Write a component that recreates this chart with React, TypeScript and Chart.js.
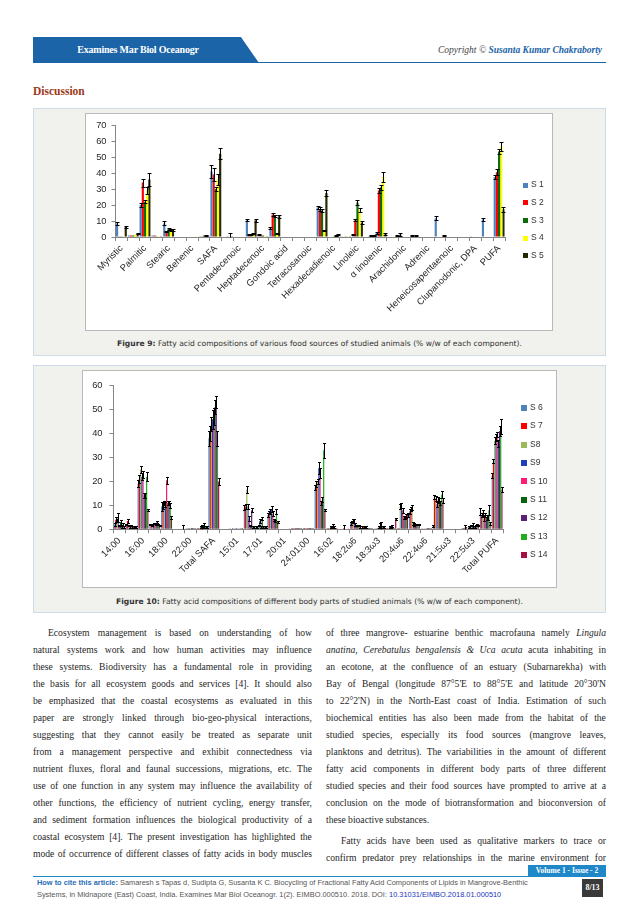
import React, { useEffect, useRef } from "react";
import { Chart, registerables } from "chart.js";

Chart.register(...registerables);

// ---------------- Figure 9 data ----------------
const foodCategories = [
  "Myristic", "", "Palmitic", "", "Stearic", "", "Behenic", "", "SAFA", "",
  "Pentadecenoic", "", "Heptadecenoic", "", "Gondoic acid", "", "Tetracosanoic", "",
  "Hexadecadienoic", "", "Linoleic", "", "α linolenic", "", "Arachidonic", "",
  "Adrenic", "", "Heneicosapentaenoic", "", "Clupanodonic, DPA", "", "PUFA",
];
const foodSeriesNames = ["S 1", "S 2", "S 3", "S 4", "S 5"];
const foodColors = ["#4f81bd", "#ff0000", "#0b6b0b", "#ffff00", "#262600"];
const foodS1 = [8.5, 1, 20, 1, 8.5, 0, 0.3, 0.5, 41, 0.3, 0.3, 10.5, 1.5, 5.5, 0, 0, 0, 18.5, 0.3, 0.5, 1.5, 0.3, 2.5, 0.3, 1.5, 1, 0.3, 11.7, 0, 0, 0.5, 11, 37.5];
const foodS2 = [0.5, 1, 34, 1, 3.5, 0, 0.3, 0.5, 39, 0.3, 0.3, 1.5, 1, 14, 0, 0, 0, 17.5, 0.3, 0.3, 10.5, 0.3, 29, 0.3, 0.3, 0.3, 0.3, 0, 0, 0, 0.3, 0, 40.5];
const foodS3 = [0.5, 1, 22, 0.5, 5, 0, 0.3, 1, 30, 0.5, 0.3, 1.5, 1, 13, 0, 0, 0, 16.5, 0.5, 0.5, 21.5, 0.5, 31, 0.3, 0.3, 0.8, 0.3, 0, 0, 0, 0, 0, 53.5];
const foodS4 = [0.5, 1.5, 29, 0.5, 4.5, 0, 0.5, 1, 36, 0.3, 0.3, 2, 0.5, 2, 0, 0, 0, 4, 1, 0.5, 17, 1, 37.5, 0.5, 0.3, 0.5, 0.3, 0, 0, 0, 0, 0, 56.5];
const foodS5 = [6.3, 2, 36, 0.5, 4.5, 0, 0.3, 0.8, 52, 0.5, 0.3, 10.5, 0.5, 13, 0, 0, 0, 27.5, 1.5, 0.5, 9, 1, 2, 1, 0.3, 0.3, 0.3, 1, 0, 0, 0, 0, 17.3];
const foodE1 = [0.7, 0, 1, 0, 1.2, 0, 0, 0, 4, 0, 0, 0.7, 0.3, 0.5, 0, 0, 0, 1, 0, 0, 0.3, 0, 0.5, 0, 1, 0.5, 0, 1.2, 0, 0, 0, 0.7, 1.5];
const foodE2 = [0, 0, 2.5, 0, 0.5, 0, 0, 0, 4, 0, 0, 0.3, 0, 1, 0, 0, 0, 1, 0, 0, 0.8, 0, 1.5, 0, 0, 0, 0, 0, 0, 0, 0, 0, 2];
const foodE3 = [0, 0, 1, 0, 0.5, 0, 0, 0, 1.5, 0, 0, 0.3, 0, 0.8, 0, 0, 0, 0.8, 0, 0, 1.5, 0, 1.5, 0, 0, 0.3, 0, 0, 0, 0, 0, 0, 1.5];
const foodE4 = [0, 0, 2, 0, 0.5, 0, 0, 0.3, 3.5, 2, 0, 0.3, 0, 0.3, 0, 0, 0, 0.5, 0.3, 0, 1.3, 0.5, 3, 0, 0, 0, 0, 0, 0, 0, 0, 0, 3];
const foodE5 = [0.6, 0.3, 4, 0, 0.5, 0, 0, 0, 3.5, 0, 0, 1, 0, 1, 0, 0, 0, 2, 0.5, 0, 0.8, 0.3, 0.5, 0.3, 0, 0, 0, 0.3, 0, 0, 0, 0, 1.5];
const foodTicks = [0, 70, 10];

// ---------------- Figure 10 data ----------------
const bodyCategories = [
  "14:00", "", "16:00", "", "18:00", "", "22:00", "", "Total SAFA", "",
  "15:01", "", "17:01", "", "20:01", "", "24:01:00", "", "16:02", "",
  "18:2ω6", "", "18:3ω3", "", "20:4ω6", "", "22:4ω6", "", "21:5ω3", "",
  "22:5ω3", "", "Total PUFA",
];
const bodySeriesNames = ["S 6", "S 7", "S8", "S9", "S 10", "S 11", "S 12", "S 13", "S 14"];
const bodyColors = ["#4f81bd", "#ff0000", "#9bbb59", "#1f3fc0", "#ff1a75", "#0a640a", "#5b1f7a", "#1fae1f", "#a51040"];
const bodyS6 = [2, 2, 19, 2, 9.5, 0, 0.3, 0.5, 38, 0, 0.5, 9, 1, 6, 0, 0.5, 0.5, 17.5, 0.5, 0, 2.5, 1, 0.3, 0.5, 0.5, 7.5, 0.3, 1.5, 0, 0, 1, 7.5, 22.5];
const bodyS7 = [4, 3.5, 21, 2, 10, 0, 0.3, 0.5, 40, 0, 0.3, 9.5, 1, 7, 0, 0.5, 0.5, 19, 0.5, 0, 3, 1, 0.3, 0.5, 0.5, 8.5, 0.3, 13.5, 0, 0, 1, 6, 28.5];
const bodyS8 = [4, 1.5, 25, 1.5, 11, 0, 0.5, 0.5, 44, 0, 0.3, 16.5, 1.5, 7.5, 0, 0.5, 0.5, 20, 0.5, 0, 3.5, 1, 0.5, 0.5, 9.5, 9, 0.3, 13, 0, 0, 1.5, 7, 37];
const bodyS9 = [5, 1, 22, 2.5, 10.5, 0, 0.5, 1, 46, 0, 0.5, 9.5, 3.5, 8.5, 0, 0.5, 0.5, 25.5, 1, 0, 3.5, 1, 0.5, 1, 10, 2.5, 0.3, 10.5, 0, 0, 1.5, 4.5, 38.5];
const bodyS10 = [1.5, 1.5, 23, 2.5, 20.5, 0, 0.3, 1, 47, 0, 0.3, 4.5, 1, 6.5, 0, 0.5, 0.5, 23.5, 0.5, 0.5, 2, 0.5, 1, 1, 8, 2, 0.3, 12.5, 0, 0.3, 1.5, 6, 39.5];
const bodyS11 = [3, 1, 14, 2, 11, 0, 0.5, 1, 51, 0, 0.3, 1.5, 4.5, 4, 0, 0.5, 0.5, 11, 1.5, 0, 1.5, 0.5, 1.5, 1.5, 5, 2, 0.5, 12, 0, 0.5, 1, 5, 36];
const bodyS12 = [1, 1, 14, 3, 11, 0, 0.5, 1.5, 53, 0, 0.3, 8, 1, 3.5, 0, 0.5, 0.5, 12.5, 1, 0, 1.5, 0.5, 1.5, 0.5, 5, 2, 0.5, 11, 0, 0.5, 1.5, 5, 41];
const bodyS13 = [2, 1, 22, 2, 10, 0, 0.5, 1, 38, 0.3, 0.5, 1, 1, 7.5, 0, 0.5, 0.5, 33, 0.5, 0, 1.5, 0.5, 1, 0.5, 5.5, 2, 0.5, 14.5, 0, 1, 2, 8, 43];
const bodyS14 = [1, 1, 8, 1.5, 5, 0.3, 0.5, 1, 20, 0.3, 0.5, 1, 1, 3, 0.3, 0.5, 0.5, 8, 0.5, 0.3, 1, 0.5, 1, 4.3, 6, 2, 0.5, 12, 0, 1, 1.5, 2.5, 16.5];
const bodyE6 = [0.5, 0.3, 1.5, 0.3, 2, 0, 0, 0, 3, 0, 0, 1, 0.3, 0.8, 0, 0, 0, 1, 0, 0, 0.5, 0.3, 0, 0, 0, 1, 0, 0.5, 0, 0, 0.3, 1.5, 1];
const bodyE7 = [1, 1, 1.5, 0.3, 1.5, 0, 0, 0, 3, 0, 0, 1, 0.3, 0.8, 0, 0, 0, 1.2, 0, 0, 0.5, 0.3, 0, 0, 0, 1, 0, 1, 0, 0, 0.3, 1, 1];
const bodyE8 = [0.5, 0.3, 1.5, 0.3, 1, 0, 0, 0, 3, 0, 0, 1.5, 0.3, 1, 0, 0, 0, 1, 0, 0, 1, 0.3, 0, 0, 1, 1, 0, 1, 0, 0, 0.3, 1, 1.5];
const bodyE9 = [2, 0.3, 1.5, 0.3, 1, 0, 0, 0.5, 4, 0, 0, 1, 1, 1.2, 0, 0, 0, 2.5, 0.5, 0, 0.7, 0.3, 0, 0.5, 1, 0.5, 0, 1, 0, 0, 0.3, 1, 1.5];
const bodyE10 = [0.3, 0.3, 1.5, 0.3, 1.5, 0, 0, 1, 3.5, 0, 0, 1, 0.3, 1, 0, 0, 0, 2, 0, 1.5, 0.5, 0, 0.5, 0.5, 1, 0.5, 0, 1, 0, 0, 1, 1, 1];
const bodyE11 = [1, 0.3, 1, 0.3, 1, 0, 0, 0.5, 3, 0, 0, 0.3, 0.8, 0.5, 0, 0, 0, 1, 0.7, 0, 0.3, 0, 1, 0.5, 0.7, 0.3, 0, 1, 0, 0, 0.3, 1, 1.5];
const bodyE12 = [0.3, 0.3, 1, 0.3, 1, 0, 0, 1, 2.5, 0, 0, 0.8, 0.3, 0.5, 0, 0, 0, 1, 0.5, 0, 0.3, 0, 1.5, 0, 0.7, 0.3, 0, 1, 0, 0, 0.3, 1, 2];
const bodyE13 = [0.5, 0.3, 2, 0.3, 1, 0, 0, 0.5, 3, 0, 0, 0.3, 0.3, 1, 0, 0, 0, 3, 0, 0, 0.3, 0, 0.5, 0, 0.7, 0.3, 0, 1.5, 0, 1, 0.3, 2, 3];
const bodyE14 = [0.3, 0.3, 0.5, 0.3, 0.5, 1.5, 0, 0.3, 1.5, 0, 0, 0.3, 0.3, 0.5, 0, 0, 0, 0.5, 0, 0, 0.3, 0, 0.3, 0.3, 0.7, 0.3, 0, 1, 0, 0, 0.3, 0.5, 1];
const bodyTicks = [0, 60, 10];

// ---------------- helpers ----------------
const serif = "'Liberation Serif', 'Times New Roman', serif";
const sans = "'Liberation Sans', Arial, sans-serif";

function errorBarPlugin(errors: number[][], cap: number) {
  return {
    id: "errorBars",
    afterDatasetsDraw(chart: any) {
      const ctx = chart.ctx;
      const ys = chart.scales.y;
      ctx.save();
      ctx.strokeStyle = "#000000";
      ctx.lineWidth = 1;
      chart.data.datasets.forEach((ds: any, d: number) => {
        const meta = chart.getDatasetMeta(d);
        meta.data.forEach((bar: any, i: number) => {
          const e = errors[d][i];
          if (!e) return;
          const v = ds.data[i];
          const top = Math.round(ys.getPixelForValue(v + e)) + 0.5;
          const lowV = Math.max(0, v - e);
          const bot = Math.round(ys.getPixelForValue(lowV)) + 0.5;
          const x = Math.round(bar.x) + 0.5;
          ctx.beginPath();
          ctx.moveTo(x, top);
          ctx.lineTo(x, bot);
          ctx.moveTo(x - cap, top);
          ctx.lineTo(x + cap, top);
          if (v - e > 0) {
            ctx.moveTo(x - cap, bot);
            ctx.lineTo(x + cap, bot);
          }
          ctx.stroke();
        });
      });
      ctx.restore();
    },
  };
}

function sideLegendPlugin(x: number, y0: number, dy: number, box: number) {
  return {
    id: "sideLegend",
    afterDraw(chart: any) {
      const ctx = chart.ctx;
      ctx.save();
      ctx.font = `8.5px ${sans}`;
      ctx.textBaseline = "middle";
      ctx.textAlign = "left";
      chart.data.datasets.forEach((ds: any, k: number) => {
        const cy = y0 + k * dy;
        ctx.fillStyle = ds.backgroundColor;
        ctx.fillRect(x, Math.round(cy - box / 2), box, box);
        ctx.fillStyle = "#333333";
        ctx.fillText(ds.label, x + box + 3, cy);
      });
      ctx.restore();
    },
  };
}

type BarChartProps = {
  width: number;
  height: number;
  labels: string[];
  names: string[];
  colors: string[];
  values: number[][];
  errors: number[][];
  ticks: number[];
  yWidth: number;
  xHeight: number;
  padTop: number;
  padRight: number;
  yPad: number;
  cap: number;
  legend: number[];
};

function BarChart(p: BarChartProps) {
  const ref = useRef<HTMLCanvasElement | null>(null);
  useEffect(() => {
    if (!ref.current) return;
    const axisColor = "#868686";
    const tickFont = { family: sans, size: 9.3 };
    const chart = new Chart(ref.current, {
      type: "bar",
      data: {
        labels: p.labels,
        datasets: p.names.map((n, k) => ({
          label: n,
          data: p.values[k],
          backgroundColor: p.colors[k],
          borderWidth: 0,
          categoryPercentage: 0.92,
          barPercentage: 1.0,
        })),
      },
      options: {
        responsive: false,
        animation: false,
        devicePixelRatio: 1,
        layout: { padding: { left: 0, right: p.padRight, top: p.padTop, bottom: 0 } },
        plugins: { legend: { display: false }, tooltip: { enabled: false }, title: { display: false } },
        scales: {
          x: {
            grid: { display: true, drawOnChartArea: false, drawTicks: true, tickLength: 4, color: axisColor, offset: true },
            border: { display: true, color: axisColor },
            ticks: { autoSkip: false, maxRotation: 45, minRotation: 45, font: tickFont, color: "#262626", padding: 2 },
            afterFit: (s: any) => {
              s.height = p.xHeight;
            },
          },
          y: {
            min: p.ticks[0],
            max: p.ticks[1],
            grid: { display: true, drawOnChartArea: false, drawTicks: true, tickLength: 4, color: axisColor },
            border: { display: true, color: axisColor },
            ticks: { stepSize: p.ticks[2], font: tickFont, color: "#262626", padding: p.yPad },
            afterFit: (s: any) => {
              s.width = p.yWidth;
            },
          },
        },
      } as any,
      plugins: [errorBarPlugin(p.errors, p.cap), sideLegendPlugin(p.legend[0], p.legend[1], p.legend[2], p.legend[3])],
    });
    return () => chart.destroy();
  }, []);
  return <canvas ref={ref} width={p.width} height={p.height} style={{ display: "block", width: p.width, height: p.height }} />;
}

type Seg = [string, boolean?];
type Line = { segs: Seg[]; y: number; indent?: number; last?: boolean };

const L = 17;
const Y0 = 632;

const leftLines: Line[] = [
  "Ecosystem management is based on understanding of how",
  "natural systems work and how human activities may influence",
  "these systems. Biodiversity has a fundamental role in providing",
  "the basis for all ecosystem goods and services [4]. It should also",
  "be emphasized that the coastal ecosystems as evaluated in this",
  "paper are strongly linked through bio-geo-physical interactions,",
  "suggesting that they cannot easily be treated as separate unit",
  "from a management perspective and exhibit connectedness via",
  "nutrient fluxes, floral and faunal successions, migrations, etc. The",
  "use of one function in any system may influence the availability of",
  "other functions, the efficiency of nutrient cycling, energy transfer,",
  "and sediment formation influences the biological productivity of a",
  "coastal ecosystem [4]. The present investigation has highlighted the",
  "mode of occurrence of different classes of fatty acids in body muscles",
].map((t, i) => ({ segs: [[t]] as Seg[], y: Y0 + i * L, indent: i === 0 ? 15 : 0 }));

const rightTexts: Seg[][] = [
  [["of three mangrove- estuarine benthic macrofauna namely "], ["Lingula", true]],
  [["anatina, Cerebatulus bengalensis & Uca acuta", true], [" acuta inhabiting in"]],
  [["an ecotone, at the confluence of an estuary (Subarnarekha) with"]],
  [["Bay of Bengal (longitude 87°5'E to 88°5'E and latitude 20°30'N"]],
  [["to 22°2'N) in the North-East coast of India. Estimation of such"]],
  [["biochemical entities has also been made from the habitat of the"]],
  [["studied species, especially its food sources (mangrove leaves,"]],
  [["planktons and detritus). The variabilities in the amount of different"]],
  [["fatty acid components in different body parts of three different"]],
  [["studied species and their food sources have prompted to arrive at a"]],
  [["conclusion on the mode of biotransformation and bioconversion of"]],
  [["these bioactive substances."]],
];
const rightLines: Line[] = [
  ...rightTexts.map((segs, i) => ({ segs, y: Y0 + i * L, last: i === rightTexts.length - 1 })),
  { segs: [["Fatty acids have been used as qualitative markers to trace or"]], y: Y0 + 12 * L + 4, indent: 15 },
  { segs: [["confirm predator prey relationships in the marine environment for"]], y: Y0 + 13 * L + 4 },
];

function lineWords(segs: Seg[]): { w: string; it: boolean }[] {
  const out: { w: string; it: boolean }[] = [];
  segs.forEach(([t, it]) => {
    t.split(" ").forEach((w) => {
      if (w.length) out.push({ w, it: !!it });
    });
  });
  return out;
}

function TextColumn({ left, width, lines }: { left: number; width: number; lines: Line[] }) {
  return (
    <>
      {lines.map((ln, i) => {
        const words = lineWords(ln.segs);
        return (
          <div
            key={i}
            style={{
              position: "absolute",
              left: left + (ln.indent || 0),
              width: width - (ln.indent || 0),
              top: ln.y - L / 2,
              height: L,
              lineHeight: `${L}px`,
              fontFamily: serif,
              fontSize: 9.6,
              color: "#1f1f1f",
              display: "flex",
              justifyContent: ln.last ? "flex-start" : "space-between",
              gap: ln.last ? 2.4 : 0,
              whiteSpace: "nowrap",
            }}
          >
            {words.map((w, k) => (
              <span key={k} style={{ fontStyle: w.it ? "italic" : "normal" }}>
                {w.w}
              </span>
            ))}
          </div>
        );
      })}
    </>
  );
}

export default function App() {
  useEffect(() => {
    document.body.style.margin = "0";
  }, []);

  const abs = (o: React.CSSProperties): React.CSSProperties => ({ position: "absolute", ...o });

  return (
    <div style={{ position: "relative", width: 638, height: 902, background: "#ffffff", overflow: "hidden" }}>
      {/* header */}
      <div
        style={abs({
          left: 33,
          top: 37,
          width: 226,
          height: 26,
          background: "#1c64a8",
          clipPath: "polygon(0 0, 92% 0, 100% 100%, 0 100%)",
        })}
      />
      <div
        style={abs({
          left: 33,
          top: 37,
          width: 210,
          height: 26,
          lineHeight: "26px",
          textAlign: "center",
          color: "#ffffff",
          fontFamily: serif,
          fontWeight: "bold",
          fontSize: 10,
          letterSpacing: -0.2,
        })}
      >
        Examines Mar Biol Oceanogr
      </div>
      <div style={abs({ left: 258, top: 61.5, width: 348, height: 1.5, background: "#1c64a8" })} />
      <div
        style={abs({
          right: 36,
          top: 43,
          height: 14,
          lineHeight: "14px",
          fontFamily: serif,
          fontStyle: "italic",
          fontSize: 9.5,
          color: "#444444",
          whiteSpace: "nowrap",
        })}
      >
        Copyright © <span style={{ color: "#1c64a8", fontWeight: "bold" }}>Susanta Kumar Chakraborty</span>
      </div>

      <div
        style={abs({
          left: 33,
          top: 83,
          lineHeight: "16px",
          fontFamily: serif,
          fontWeight: "bold",
          fontSize: 11.5,
          color: "#9b3a1c",
        })}
      >
        Discussion
      </div>

      {/* Figure 9 box */}
      <div style={abs({ left: 33, top: 108, width: 573, height: 248, background: "#f1f1ed", border: "1px solid #cfdbe6", boxSizing: "border-box" })} />
      <div style={abs({ left: 85, top: 113, width: 468, height: 218, background: "#ffffff", border: "1px solid #b9b9b9", boxSizing: "border-box" })}>
        <BarChart
          width={466}
          height={216}
          labels={foodCategories}
          names={foodSeriesNames}
          colors={foodColors}
          values={[foodS1, foodS2, foodS3, foodS4, foodS5]}
          errors={[foodE1, foodE2, foodE3, foodE4, foodE5]}
          ticks={foodTicks}
          yWidth={29.5}
          xHeight={93}
          padTop={11}
          padRight={47}
          yPad={5}
          cap={2}
          legend={[437, 71, 17.7, 5]}
        />
      </div>
      <div
        style={abs({
          left: 33,
          width: 573,
          top: 337,
          lineHeight: "14px",
          textAlign: "center",
          fontFamily: "'DejaVu Sans', sans-serif",
          fontSize: 7.6,
          color: "#333333",
        })}
      >
        <b>Figure 9:</b> Fatty acid compositions of various food sources of studied animals (% w/w of each component).
      </div>

      {/* Figure 10 box */}
      <div style={abs({ left: 33, top: 365, width: 573, height: 248, background: "#f1f1ed", border: "1px solid #cfdbe6", boxSizing: "border-box" })} />
      <div style={abs({ left: 82, top: 370, width: 475, height: 218, background: "#ffffff", border: "1px solid #b9b9b9", boxSizing: "border-box" })}>
        <BarChart
          width={473}
          height={216}
          labels={bodyCategories}
          names={bodySeriesNames}
          colors={bodyColors}
          values={[bodyS6, bodyS7, bodyS8, bodyS9, bodyS10, bodyS11, bodyS12, bodyS13, bodyS14]}
          errors={[bodyE6, bodyE7, bodyE8, bodyE9, bodyE10, bodyE11, bodyE12, bodyE13, bodyE14]}
          ticks={bodyTicks}
          yWidth={30.5}
          xHeight={57.7}
          padTop={14.7}
          padRight={53}
          yPad={7}
          cap={1.5}
          legend={[438, 36.7, 18.4, 6]}
        />
      </div>
      <div
        style={abs({
          left: 33,
          width: 573,
          top: 595,
          lineHeight: "14px",
          textAlign: "center",
          fontFamily: "'DejaVu Sans', sans-serif",
          fontSize: 7.6,
          color: "#333333",
        })}
      >
        <b>Figure 10:</b> Fatty acid compositions of different body parts of studied animals (% w/w of each component).
      </div>

      {/* body text */}
      <TextColumn left={33} width={279} lines={leftLines} />
      <TextColumn left={326} width={280} lines={rightLines} />

      {/* footer */}
      <div
        style={abs({
          left: 528,
          top: 865,
          width: 78,
          height: 11,
          background: "#1e88c8",
          color: "#ffffff",
          fontFamily: serif,
          fontWeight: "bold",
          fontSize: 7.5,
          lineHeight: "11px",
          textAlign: "center",
        })}
      >
        Volume 1 - Issue - 2
      </div>
      <div style={abs({ left: 33, top: 875.5, width: 573, height: 1.3, background: "#1e88c8" })} />
      <div
        style={abs({
          left: 37,
          top: 877,
          width: 540,
          fontFamily: sans,
          fontSize: 7.4,
          lineHeight: "11.5px",
          color: "#555555",
          whiteSpace: "nowrap",
        })}
      >
        <div>
          <span style={{ color: "#2a6cb3", fontWeight: "bold" }}>How to cite this article:</span> Samaresh s Tapas d, Sudipta G, Susanta K C. Biocycling of
          Fractional Fatty Acid Components of Lipids in Mangrove-Benthic
        </div>
        <div>
          Systems, in Midnapore (East) Coast, India. Examines Mar Biol Oceanogr. 1(2). EIMBO.000510. 2018. DOI:{" "}
          <span style={{ color: "#2233bb" }}>10.31031/EIMBO.2018.01.000510</span>
        </div>
      </div>
      <div
        style={abs({
          left: 582,
          top: 879,
          width: 21,
          height: 18,
          background: "#3a3a3a",
          color: "#ffffff",
          fontFamily: serif,
          fontWeight: "bold",
          fontSize: 8,
          lineHeight: "18px",
          textAlign: "center",
        })}
      >
        8/13
      </div>
    </div>
  );
}
